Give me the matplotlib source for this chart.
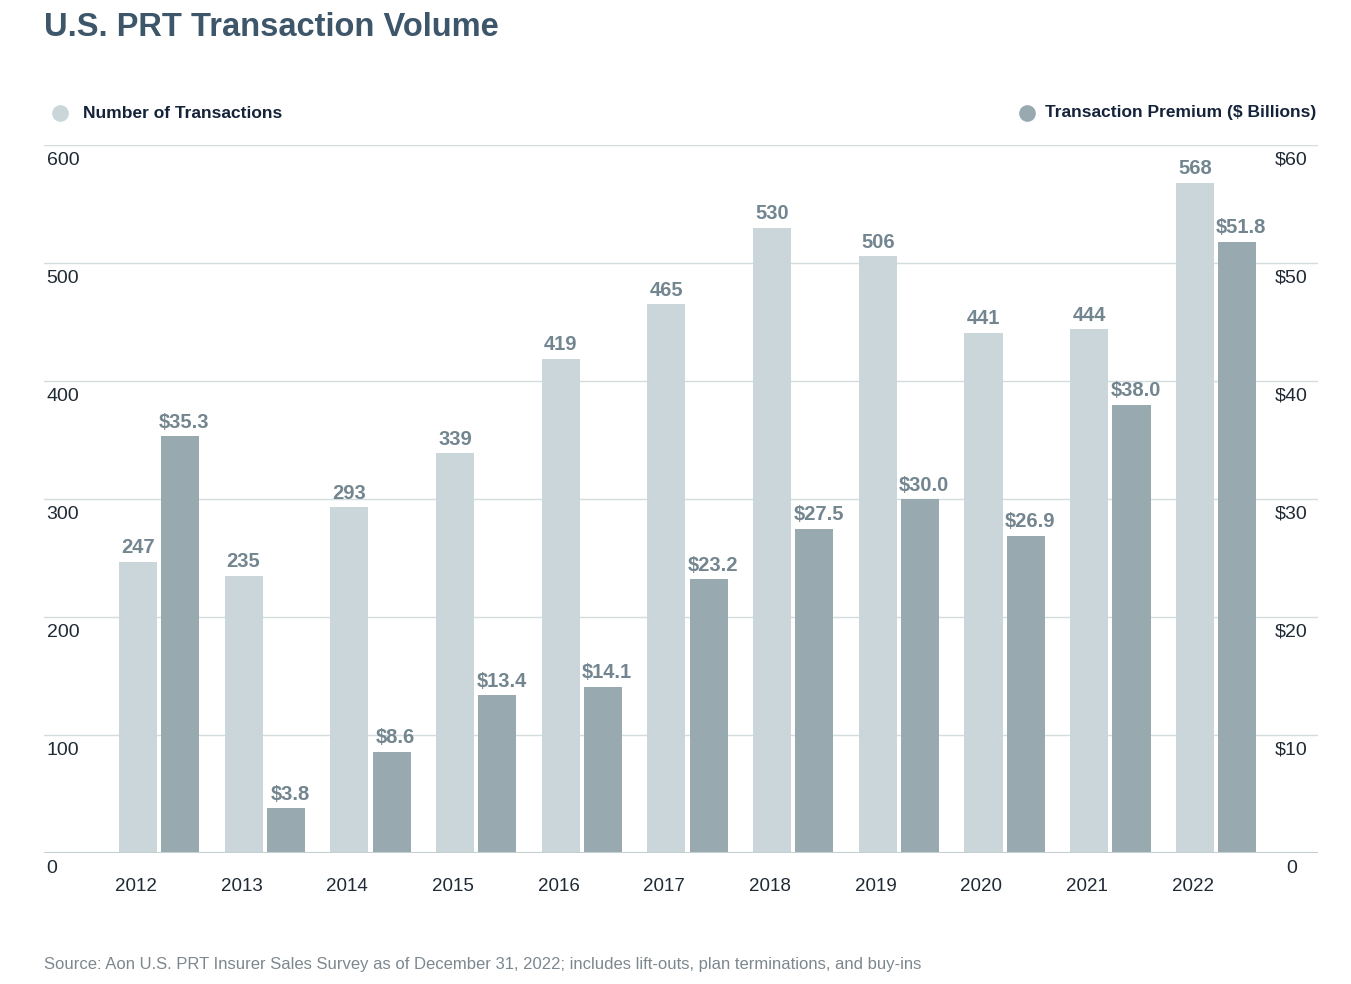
import numpy as np
import matplotlib.pyplot as plt
import matplotlib.transforms as mtransforms
from matplotlib.lines import Line2D

# Data
years = ["2012", "2013", "2014", "2015", "2016", "2017", "2018", "2019", "2020", "2021", "2022"]
transactions = [247, 235, 293, 339, 419, 465, 530, 506, 441, 444, 568]
premium = [35.3, 3.8, 8.6, 13.4, 14.1, 23.2, 27.5, 30.0, 26.9, 38.0, 51.8]
left_ticks = [0, 100, 200, 300, 400, 500, 600]
right_ticks = [0, 10, 20, 30, 40, 50, 60]

light = "#cbd6da"
dark = "#98aab0"
label_grey = "#738690"
tick_col = "#1f2a35"
font = ["Liberation Sans", "DejaVu Sans"]
plt.rcParams["font.family"] = font

fig = plt.figure(figsize=(13.51, 9.84), dpi=100)
ax = fig.add_axes([0.0326, 0.1331, 0.943, 0.7195])
ax2 = ax.twinx()

x = np.arange(len(years))
w = 0.36
ax.bar(x - 0.2, transactions, width=w, color=light, zorder=3)
ax2.bar(x + 0.2, premium, width=w, color=dark, zorder=3)

ax.set_xlim(-1.088, 10.965)
ax.set_ylim(0, 600)
ax2.set_ylim(0, 60)

for a in (ax, ax2):
    for s in a.spines.values():
        s.set_visible(False)
    a.set_yticks([])
    a.tick_params(length=0)
ax.set_xticks([])

# gridlines
for t in left_ticks:
    ax.axhline(t, color="#d3dcdf", lw=1.0, zorder=1)
# baseline drawn over the bars
ax2.axhline(0, color="#c5cfd3", lw=1.5, zorder=6)

# y tick labels as text (left and right)
tr_l = mtransforms.blended_transform_factory(ax.transAxes, ax.transData)
for t in left_ticks:
    ax.annotate(str(t), (0.002, t), xycoords=tr_l, xytext=(0, -5), textcoords="offset points",
                ha="left", va="top", fontsize=14, color=tick_col)
tr_r = mtransforms.blended_transform_factory(ax2.transAxes, ax2.transData)
for t in right_ticks:
    lab = "0" if t == 0 else f"${t}"
    ax2.annotate(lab, (0.979, t), xycoords=tr_r, xytext=(0, -5), textcoords="offset points",
                 ha="center", va="top", fontsize=14, color=tick_col)

# year labels
tr_x = mtransforms.blended_transform_factory(ax.transData, ax.transAxes)
for i, yr in enumerate(years):
    ax.annotate(yr, (x[i] - 0.22, 0), xycoords=tr_x, xytext=(0, -24), textcoords="offset points",
                ha="center", va="center", fontsize=13.5, color=tick_col)

# value labels
for i in range(len(years)):
    ax.annotate(str(transactions[i]), (x[i] - 0.2, transactions[i]), xytext=(0, 10),
                textcoords="offset points", ha="center", va="center",
                fontsize=14.5, fontweight="bold", color=label_grey, zorder=5)
    ax2.annotate(f"${premium[i]:.1f}", (x[i] + 0.2, premium[i]), xytext=(3, 10),
                 textcoords="offset points", ha="center", va="center",
                 fontsize=14.5, fontweight="bold", color=label_grey, zorder=5)

# title
fig.text(44 / 1351, 1 - 28 / 984, "U.S. PRT Transaction Volume", ha="left", va="center",
         fontsize=23.5, fontweight="bold", color="#3e566a")

# legend
fig.add_artist(Line2D([60 / 1351], [1 - 113 / 984], marker="o", markersize=11, color=light,
                      linestyle="none", transform=fig.transFigure))
fig.text(83 / 1351, 1 - 113 / 984, "Number of Transactions", ha="left", va="center",
         fontsize=12.5, fontweight="bold", color="#14233a")
fig.add_artist(Line2D([1027 / 1351], [1 - 113 / 984], marker="o", markersize=11, color=dark,
                      linestyle="none", transform=fig.transFigure))
fig.text(1316 / 1351, 1 - 113 / 984, "Transaction Premium ($ Billions)", ha="right", va="center",
         fontsize=12.5, fontweight="bold", color="#14233a")

# source
fig.text(44 / 1351, 1 - 965 / 984,
         "Source: Aon U.S. PRT Insurer Sales Survey as of December 31, 2022; includes lift-outs, plan terminations, and buy-ins",
         ha="left", va="center", fontsize=12, color="#7d878e")

fig.savefig("out.png", dpi=100)
